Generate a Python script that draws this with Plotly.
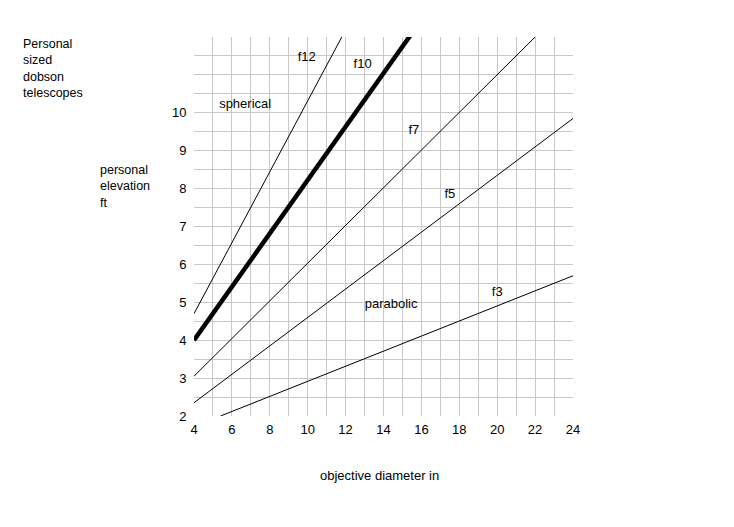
import plotly.graph_objects as go

# line end points (objective diameter in, elevation ft)
f12_x = [4, 11.8]
f12_y = [4.7, 12.0]
f10_x = [4, 15.5]
f10_y = [4.0, 12.1]
f7_x = [4, 22.0]
f7_y = [3.05, 12.0]
f5_x = [4, 24]
f5_y = [2.35, 9.85]
f3_x = [5.4, 24]
f3_y = [2.0, 5.7]

x_ticks = [4, 6, 8, 10, 12, 14, 16, 18, 20, 22, 24]
y_ticks = [2, 3, 4, 5, 6, 7, 8, 9, 10]

# in-plot labels
lbl_text = ['f12', 'f10', 'spherical', 'f7', 'f5', 'parabolic', 'f3']
lbl_x = [9.95, 12.9, 6.7, 15.6, 17.5, 14.4, 20.0]
lbl_y = [11.46, 11.28, 10.22, 9.52, 7.84, 4.94, 5.25]

font = 'Liberation Sans, Arial, sans-serif'

fig = go.Figure()

for xs, ys, w in [(f12_x, f12_y, 1), (f10_x, f10_y, 4.5), (f7_x, f7_y, 1),
                  (f5_x, f5_y, 1), (f3_x, f3_y, 1)]:
    fig.add_trace(go.Scatter(x=xs, y=ys, mode='lines',
                             line=dict(color='black', width=w),
                             showlegend=False, hoverinfo='skip'))

fig.add_trace(go.Scatter(x=lbl_x, y=lbl_y, mode='text', text=lbl_text,
                         textfont=dict(family=font, size=13, color='black'),
                         showlegend=False, hoverinfo='skip'))

# page body has an 8px margin, so the figure is a bit smaller than the window
fig.update_layout(
    width=726, height=519,
    autosize=False,
    margin=dict(l=186, r=161, t=29, b=111),
    paper_bgcolor='white', plot_bgcolor='white',
    font=dict(family=font, size=12, color='black'),
    xaxis=dict(range=[4, 24], tickvals=x_ticks, showline=False, zeroline=False,
               gridcolor='#c8c8c8', gridwidth=1,
               ticks='outside', ticklen=1, tickcolor='white',
               tickfont=dict(size=13),
               minor=dict(dtick=1, showgrid=True, gridcolor='#c8c8c8')),
    yaxis=dict(range=[2, 12], tickvals=y_ticks, showline=False, zeroline=False,
               gridcolor='#c8c8c8', gridwidth=1,
               ticks='outside', ticklen=4, tickcolor='white',
               tickfont=dict(size=13),
               minor=dict(dtick=0.5, showgrid=True, gridcolor='#c8c8c8')),
    annotations=[
        dict(text='Personal<br>sized<br>dobson<br>telescopes', xref='paper', yref='paper',
             x=-0.456, y=1.006, xanchor='left', yanchor='top', align='left',
             showarrow=False, font=dict(size=12.5)),
        dict(text='personal<br>elevation<br>ft', xref='paper', yref='paper',
             x=-0.252, y=0.672, xanchor='left', yanchor='top', align='left',
             showarrow=False, font=dict(size=12.5)),
        dict(text='objective diameter in', xref='paper', yref='paper',
             x=0.49, y=-0.158, xanchor='center', yanchor='middle',
             showarrow=False, font=dict(size=13)),
    ],
)

fig.write_html('out.html')
